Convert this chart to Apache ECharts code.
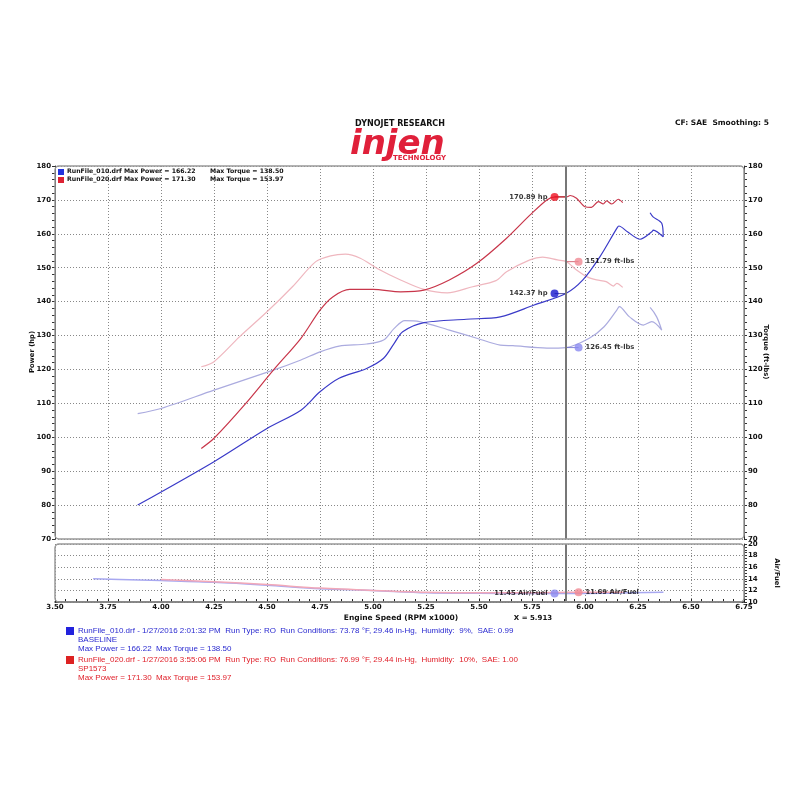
<!DOCTYPE html>
<html>
<head>
<meta charset="utf-8">
<script src="https://cdn.jsdelivr.net/npm/echarts@6/dist/echarts.min.js"></script>
<style>
  html, body { margin: 0; padding: 0; background: #fff; }
  #chart { width: 800px; height: 800px; }
</style>
</head>
<body>
<div id="chart"></div>
<script>
// RunFile_010 (baseline) power, hp
var baseHpRpm = [3.89, 4.25, 4.50, 4.66, 4.75, 4.84, 4.97, 5.05, 5.10, 5.14, 5.24, 5.44, 5.60, 5.76, 5.91, 5.99, 6.07, 6.15, 6.16, 6.20, 6.26, 6.315, 6.322, 6.369, 6.362, 6.321, 6.307];
var baseHp = [80.0, 92.8, 102.6, 108.0, 113.4, 117.4, 120.3, 123.3, 127.7, 131.1, 133.8, 134.8, 135.5, 139.0, 142.4, 146.4, 153.2, 161.6, 162.3, 160.6, 158.4, 160.6, 161.1, 159.1, 163.1, 165.0, 166.2];
// RunFile_010 torque, ft-lbs
var baseTqRpm = [3.89, 4.00, 4.25, 4.53, 4.66, 4.75, 4.84, 4.97, 5.05, 5.10, 5.15, 5.22, 5.36, 5.49, 5.60, 5.66, 5.82, 5.91, 6.02, 6.09, 6.15, 6.162, 6.21, 6.275, 6.315, 6.362, 6.338, 6.307];
var baseTq = [107.0, 108.5, 113.9, 119.8, 122.8, 125.2, 126.9, 127.5, 128.7, 132.1, 134.4, 134.1, 131.6, 129.2, 127.2, 127.0, 126.3, 126.45, 129.2, 132.6, 137.5, 138.5, 135.5, 133.1, 134.1, 131.6, 135.5, 138.3];
// RunFile_020 (SP1573) power, hp
var spHpRpm = [4.19, 4.25, 4.40, 4.53, 4.66, 4.75, 4.81, 4.89, 5.00, 5.13, 5.24, 5.36, 5.49, 5.63, 5.74, 5.82, 5.86, 5.913, 5.93, 5.96, 6.00, 6.03, 6.063, 6.086, 6.102, 6.126, 6.157, 6.178];
var spHp = [96.7, 99.7, 110.0, 119.8, 129.2, 137.5, 141.4, 143.6, 143.6, 142.9, 143.4, 146.4, 151.3, 158.7, 165.5, 170.0, 170.9, 170.89, 171.3, 170.5, 168.0, 167.8, 169.5, 168.8, 169.7, 168.8, 170.2, 169.2];
// RunFile_020 torque, ft-lbs
var spTqRpm = [4.19, 4.25, 4.37, 4.50, 4.62, 4.73, 4.80, 4.87, 4.94, 5.02, 5.13, 5.24, 5.35, 5.47, 5.58, 5.63, 5.74, 5.80, 5.87, 5.913, 5.96, 6.01, 6.055, 6.10, 6.134, 6.15, 6.178];
var spTq = [120.8, 122.3, 129.6, 137.0, 144.4, 151.8, 153.5, 154.0, 152.8, 149.8, 146.4, 143.6, 142.6, 144.4, 146.2, 148.8, 152.3, 153.1, 152.3, 151.79, 149.3, 147.3, 146.4, 145.9, 144.6, 145.4, 144.2];
// Air/Fuel
var baseAfrRpm = [3.68, 3.90, 4.00, 4.25, 4.50, 4.75, 5.00, 5.25, 5.50, 5.75, 5.913, 6.10, 6.37];
var baseAfr = [14.0, 13.8, 13.7, 13.4, 12.9, 12.3, 12.0, 11.6, 11.5, 11.45, 11.45, 11.5, 11.7];
var spAfrRpm = [4.00, 4.25, 4.50, 4.75, 5.00, 5.25, 5.50, 5.75, 5.913, 6.10, 6.18];
var spAfr = [13.9, 13.5, 13.0, 12.4, 12.0, 11.7, 11.6, 11.6, 11.69, 11.7, 11.7];

// cursor readout
var cursorRpm = 5.913;
var readHp = [142.37, 170.89];
var readTq = [126.45, 151.79];
var readAfr = [11.45, 11.69];

var xTicks = [3.5, 6.75, 0.25];
var hpTicks = [70, 180, 10];
var afrTicks = [10, 20, 2];

function pairs(xs, ys) {
    return xs.map(function (x, i) { return [x, ys[i]]; });
}

var BLUE = '#3a3ac8', RED = '#c8364a', LBLUE = '#ababdf', LRED = '#efb7bf';
var labelFont = {fontFamily: 'DejaVu Sans', fontWeight: 'bold', fontSize: 7, color: '#111'};
var dotted = {lineStyle: {type: [1, 2], color: '#888', width: 1}};

// dot drawn a little to the side of the cursor, joined to it by a short stub
function readout(xi, yi, value, unit, color, side) {
    return {
        type: 'scatter', xAxisIndex: xi, yAxisIndex: yi, z: 5,
        symbolSize: 8, symbolOffset: [side * 12, 0],
        itemStyle: {color: color},
        label: {
            show: true, position: side < 0 ? 'left' : 'right', distance: 3,
            formatter: value.toFixed(2) + ' ' + unit,
            fontFamily: 'DejaVu Sans', fontWeight: 'bold', fontSize: 6.8, color: '#000'
        },
        data: [[cursorRpm, value]]
    };
}

function stub(xi, yi, value, color, side) {
    return {
        type: 'scatter', xAxisIndex: xi, yAxisIndex: yi, z: 4, silent: true,
        symbol: 'rect', symbolSize: [12, 1], symbolOffset: [side * 6, 0],
        itemStyle: {color: color},
        data: [[cursorRpm, value]]
    };
}

function curve(xi, yi, xs, ys, color, w) {
    return {
        type: 'line', xAxisIndex: xi, yAxisIndex: yi, smooth: 0.3, showSymbol: false,
        lineStyle: {color: color, width: w || 1.2}, data: pairs(xs, ys)
    };
}

function axisName(text, x, y, rot) {
    return {
        type: 'text', x: x, y: y, rotation: rot,
        style: {text: text, font: 'bold 6.8px "DejaVu Sans"', fill: '#111', align: 'center', verticalAlign: 'middle'}
    };
}

var myChart = echarts.init(document.getElementById('chart'));
var option = {
    backgroundColor: '#fff',
    animation: false,
    grid: [
        {left: 55, right: 56, top: 166, height: 373},
        {left: 55, right: 56, top: 544, height: 58}
    ],
    xAxis: [
        {
            gridIndex: 0, type: 'value', min: xTicks[0], max: xTicks[1], interval: xTicks[2],
            axisLabel: {show: false}, axisLine: {show: false}, axisTick: {show: false},
            splitLine: dotted
        },
        {
            gridIndex: 1, type: 'value', min: xTicks[0], max: xTicks[1], interval: xTicks[2],
            axisLabel: Object.assign({formatter: function (v) { return v.toFixed(2); }, margin: 2}, labelFont),
            axisLine: {show: true, lineStyle: {color: '#222', width: 1.5}},
            axisTick: {show: true, length: 3, inside: true, lineStyle: {color: '#222'}},
            minorTick: {show: true, splitNumber: 5, length: 3, lineStyle: {color: '#222'}},
            splitLine: dotted
        }
    ],
    yAxis: [
        {
            gridIndex: 0, type: 'value', position: 'left', min: hpTicks[0], max: hpTicks[1], interval: hpTicks[2],
            axisLabel: Object.assign({margin: 4}, labelFont),
            axisLine: {show: true, lineStyle: {color: '#333', width: 1}},
            axisTick: {show: true, length: 3, lineStyle: {color: '#333'}},
            minorTick: {show: true, splitNumber: 5, length: 3, lineStyle: {color: '#333'}},
            splitLine: dotted
        },
        {
            gridIndex: 0, type: 'value', position: 'right', min: hpTicks[0], max: hpTicks[1], interval: hpTicks[2],
            axisLabel: Object.assign({margin: 4}, labelFont),
            axisLine: {show: true, lineStyle: {color: '#333', width: 1}},
            axisTick: {show: true, length: 3, lineStyle: {color: '#333'}},
            minorTick: {show: true, splitNumber: 5, length: 3, lineStyle: {color: '#333'}},
            splitLine: {show: false}
        },
        {
            gridIndex: 1, type: 'value', position: 'right', min: afrTicks[0], max: afrTicks[1], interval: afrTicks[2],
            axisLabel: Object.assign({margin: 4}, labelFont),
            axisLine: {show: true, lineStyle: {color: '#333', width: 1}},
            axisTick: {show: true, length: 3, lineStyle: {color: '#333'}},
            minorTick: {show: true, splitNumber: 4, length: 3, lineStyle: {color: '#333'}},
            splitLine: dotted
        }
    ],
    series: [
        curve(0, 1, baseTqRpm, baseTq, LBLUE),
        curve(0, 1, spTqRpm, spTq, LRED),
        curve(0, 0, baseHpRpm, baseHp, BLUE),
        curve(0, 0, spHpRpm, spHp, RED),
        curve(1, 2, baseAfrRpm, baseAfr, '#a8a8f0', 1.5),
        curve(1, 2, spAfrRpm, spAfr, '#f2a8b8', 1.5),
        {
            type: 'line', xAxisIndex: 0, yAxisIndex: 0, data: [],
            markLine: {
                silent: true, symbol: 'none', label: {show: false},
                lineStyle: {color: '#777', width: 2, type: 'solid'},
                data: [{xAxis: cursorRpm}]
            }
        },
        {
            type: 'line', xAxisIndex: 1, yAxisIndex: 2, data: [],
            markLine: {
                silent: true, symbol: 'none', label: {show: false},
                lineStyle: {color: '#777', width: 2, type: 'solid'},
                data: [{xAxis: cursorRpm}]
            }
        },
        stub(0, 0, readHp[1], '#aa2222', -1),
        stub(0, 0, readHp[0], '#222288', -1),
        stub(0, 1, readTq[1], '#cc4455', 1),
        stub(0, 1, readTq[0], '#6666cc', 1),
        readout(0, 0, readHp[1], 'hp', '#ee1122', -1),
        readout(0, 0, readHp[0], 'hp', '#1515cc', -1),
        readout(0, 1, readTq[1], 'ft-lbs', '#f08a94', 1),
        readout(0, 1, readTq[0], 'ft-lbs', '#8a8af0', 1),
        readout(1, 2, readAfr[0], 'Air/Fuel', '#8a8af0', -1),
        readout(1, 2, readAfr[1], 'Air/Fuel', '#f08a94', 1)
    ],
    graphic: [
        // header
        {type: 'text', left: 'center', top: 120, style: {text: 'DYNOJET RESEARCH', font: 'bold 8px "DejaVu Sans"', fill: '#111'}},
        {type: 'text', x: 350, y: 128, style: {text: 'injen', font: 'italic bold 34px "DejaVu Sans"', fill: '#e0203a'}},
        {type: 'text', x: 393, y: 155, style: {text: 'TECHNOLOGY', font: 'bold 7px "DejaVu Sans"', fill: '#e0203a'}},
        {type: 'text', x: 675, y: 119, style: {text: 'CF: SAE  Smoothing: 5', font: 'bold 7.5px "DejaVu Sans"', fill: '#111'}},
        // axis names
        axisName('Power (hp)', 32, 352, Math.PI / 2),
        axisName('Torque (ft-lbs)', 766, 352, -Math.PI / 2),
        axisName('Air/Fuel', 777, 573, -Math.PI / 2),
        {type: 'text', x: 401, y: 618, style: {text: 'Engine Speed (RPM x1000)', font: 'bold 7.5px "DejaVu Sans"', fill: '#111', align: 'center', verticalAlign: 'middle'}},
        {type: 'text', x: 533, y: 618, style: {text: 'X = ' + cursorRpm.toFixed(3), font: 'bold 7px "DejaVu Sans"', fill: '#111', align: 'center', verticalAlign: 'middle'}},
        // frames
        {type: 'rect', shape: {x: 55, y: 166, width: 689, height: 373, r: 4}, style: {fill: 'none', stroke: '#999', lineWidth: 1.5}, z: 10},
        {type: 'rect', shape: {x: 55, y: 544, width: 689, height: 58, r: 4}, style: {fill: 'none', stroke: '#999', lineWidth: 1.5}, z: 10},
        // legend inside plot
        {type: 'rect', shape: {x: 58, y: 169, width: 6, height: 6}, style: {fill: '#2233dd'}, z: 11},
        {type: 'rect', shape: {x: 58, y: 177, width: 6, height: 6}, style: {fill: '#dd2233'}, z: 11},
        {type: 'text', x: 67, y: 168, z: 11, style: {text: 'RunFile_010.drf Max Power = 166.22', font: 'bold 6.2px "DejaVu Sans"', fill: '#111'}},
        {type: 'text', x: 210, y: 168, z: 11, style: {text: 'Max Torque = 138.50', font: 'bold 6.2px "DejaVu Sans"', fill: '#111'}},
        {type: 'text', x: 67, y: 176, z: 11, style: {text: 'RunFile_020.drf Max Power = 171.30', font: 'bold 6.2px "DejaVu Sans"', fill: '#111'}},
        {type: 'text', x: 210, y: 176, z: 11, style: {text: 'Max Torque = 153.97', font: 'bold 6.2px "DejaVu Sans"', fill: '#111'}},
        // run info
        {type: 'rect', shape: {x: 66, y: 627, width: 8, height: 8}, style: {fill: '#2222dd'}},
        {type: 'text', x: 78, y: 626, style: {text: 'RunFile_010.drf - 1/27/2016 2:01:32 PM  Run Type: RO  Run Conditions: 73.78 \u00b0F, 29.46 in-Hg,  Humidity:  9%,  SAE: 0.99\nBASELINE\nMax Power = 166.22  Max Torque = 138.50', font: '8px "Liberation Sans"', lineHeight: 9, fill: '#2a2ad0'}},
        {type: 'rect', shape: {x: 66, y: 656, width: 8, height: 8}, style: {fill: '#dd2222'}},
        {type: 'text', x: 78, y: 655, style: {text: 'RunFile_020.drf - 1/27/2016 3:55:06 PM  Run Type: RO  Run Conditions: 76.99 \u00b0F, 29.44 in-Hg,  Humidity:  10%,  SAE: 1.00\nSP1573\nMax Power = 171.30  Max Torque = 153.97', font: '8px "Liberation Sans"', lineHeight: 9, fill: '#e0202a'}}
    ]
};

myChart.setOption(option);
</script>
</body>
</html>
